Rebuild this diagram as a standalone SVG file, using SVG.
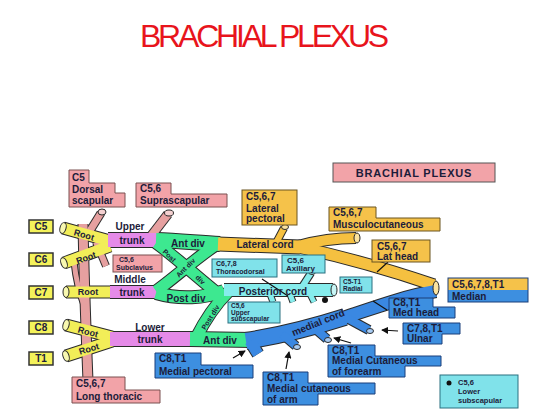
<svg xmlns="http://www.w3.org/2000/svg" width="560" height="420" viewBox="0 0 560 420">
<style>
text{font-family:"Liberation Sans",Arial,sans-serif;font-weight:bold;fill:#1c1c3a}
.t{font-size:10px}
.s{font-size:7px}
.xs{font-size:6.5px}
.pk{fill:#f2a3a8;stroke:#7a5050;stroke-width:1}
.yl{fill:#f5c24a;stroke:#6a5520;stroke-width:1}
.bl{fill:#3d8fe0;stroke:#1a3f7a;stroke-width:1}
.cy{fill:#80e2ea;stroke:#2a7080;stroke-width:1}
.rt{fill:#f4f25a;stroke:#333;stroke-width:1.5}
.o path{fill:none;stroke:#2a2a2a;stroke-linecap:butt}
.c path{fill:none;stroke-linecap:butt}
.ptr{stroke:#111;stroke-width:1.2;fill:none}
.end{stroke:#2a2a2a;stroke-width:1}
</style>
<defs>
<marker id="ah" viewBox="0 0 8 8" refX="7" refY="4" markerWidth="6" markerHeight="6" orient="auto">
<path d="M0,0 L8,4 L0,8 Z" fill="#111"/>
</marker>
</defs>
<rect width="560" height="420" fill="#fff"/>
<text x="263" y="47" text-anchor="middle" style="font-size:32px;font-weight:normal;fill:#e8141c;letter-spacing:-3.2px">BRACHIAL PLEXUS</text>

<g id="connectors">
<!-- outlines -->
<g class="o">
<path d="M83 224 C84 280,86 330,88 381" stroke-width="11"/>
<path d="M74 262 C76 280,80 295,84 305" stroke-width="7"/>
<path d="M88 234 L101 213" stroke-width="9"/>
<path d="M148 240 L168 214" stroke-width="10"/>
<path d="M96 242 L106 266" stroke-width="8"/>
<path d="M63 228 L110 241" stroke-width="13"/>
<path d="M64 263 L110 246" stroke-width="13"/>
<path d="M66 292 L112 292" stroke-width="13"/>
<path d="M66 325 L112 337" stroke-width="13"/>
<path d="M66 356 L112 341" stroke-width="13"/>
<path d="M108 240 L158 240" stroke-width="16"/>
<path d="M110 292 L158 292" stroke-width="14"/>
<path d="M110 339 L192 339" stroke-width="16"/>
<path d="M156 240 C180 241,200 243,220 244" stroke-width="16"/>
<path d="M156 243 C172 254,196 276,216 292" stroke-width="13"/>
<path d="M156 291 C172 280,196 258,216 245" stroke-width="13"/>
<path d="M156 293 C180 300,205 298,224 291" stroke-width="14"/>
<path d="M196 338 C205 320,215 305,228 292" stroke-width="13"/>
<path d="M190 339 L252 340" stroke-width="16"/>
<path d="M218 244 L300 247" stroke-width="15"/>
<path d="M298 246 C320 240,340 238,356 238" stroke-width="12"/>
<path d="M298 247 C340 256,390 270,434 285" stroke-width="13"/>
<path d="M276 243 L284 228" stroke-width="8"/>
<path d="M224 290 L333 290" stroke-width="14"/>
<path d="M302 287 L311 273" stroke-width="8"/>
<path d="M270 294 L273 302" stroke-width="7"/>
<path d="M290 294 L293 302" stroke-width="7"/>
<path d="M310 294 L314 302" stroke-width="7"/>
<path d="M246 341 C290 334,320 325,345 317" stroke-width="18"/>
<path d="M340 319 C370 309,405 296,436 291" stroke-width="14"/>
<path d="M250 341 L258 354" stroke-width="13"/>
<path d="M282 334 L296 346" stroke-width="10"/>
<path d="M312 326 L327 339" stroke-width="10"/>
<path d="M345 317 L369 330" stroke-width="10"/>
</g>
<!-- colour fills -->
<g class="c">
<path d="M83 224 C84 280,86 330,88 381" stroke-width="9" stroke="#e6a0a0"/>
<path d="M74 262 C76 280,80 295,84 305" stroke-width="5" stroke="#e6a0a0"/>
<path d="M88 234 L101 213" stroke-width="7" stroke="#e6a0a0"/>
<path d="M148 240 L168 214" stroke-width="8" stroke="#e6a0a0"/>
<path d="M96 242 L106 266" stroke-width="6" stroke="#e6a0a0"/>
<path d="M63 228 L110 241" stroke-width="11" stroke="#f2ee58"/>
<path d="M64 263 L110 246" stroke-width="11" stroke="#f2ee58"/>
<path d="M66 292 L112 292" stroke-width="11" stroke="#f2ee58"/>
<path d="M66 325 L112 337" stroke-width="11" stroke="#f2ee58"/>
<path d="M66 356 L112 341" stroke-width="11" stroke="#f2ee58"/>
<path d="M108 240 L158 240" stroke-width="14" stroke="#e58ae8"/>
<path d="M110 292 L158 292" stroke-width="12" stroke="#e58ae8"/>
<path d="M110 339 L192 339" stroke-width="14" stroke="#e58ae8"/>
<path d="M156 240 C180 241,200 243,220 244" stroke-width="14" stroke="#3de890"/>
<path d="M156 243 C172 254,196 276,216 292" stroke-width="11" stroke="#3de890"/>
<path d="M156 291 C172 280,196 258,216 245" stroke-width="11" stroke="#3de890"/>
<path d="M156 293 C180 300,205 298,224 291" stroke-width="12" stroke="#3de890"/>
<path d="M196 338 C205 320,215 305,228 292" stroke-width="11" stroke="#3de890"/>
<path d="M190 339 L252 340" stroke-width="14" stroke="#3de890"/>
<path d="M218 244 L300 247" stroke-width="13" stroke="#f5c040"/>
<path d="M298 246 C320 240,340 238,356 238" stroke-width="10" stroke="#f5c040"/>
<path d="M298 247 C340 256,390 270,434 285" stroke-width="11" stroke="#f5c040"/>
<path d="M276 243 L284 228" stroke-width="6" stroke="#f5c040"/>
<path d="M224 290 L333 290" stroke-width="12" stroke="#86ecec"/>
<path d="M302 287 L311 273" stroke-width="6" stroke="#86ecec"/>
<path d="M270 294 L273 302" stroke-width="5" stroke="#86ecec"/>
<path d="M290 294 L293 302" stroke-width="5" stroke="#86ecec"/>
<path d="M310 294 L314 302" stroke-width="5" stroke="#86ecec"/>
<path d="M246 341 C290 334,320 325,345 317" stroke-width="16" stroke="#3a88e2"/>
<path d="M340 319 C370 309,405 296,436 291" stroke-width="12" stroke="#3a88e2"/>
<path d="M250 341 L258 354" stroke-width="11" stroke="#3a88e2"/>
<path d="M282 334 L296 346" stroke-width="8" stroke="#3a88e2"/>
<path d="M312 326 L327 339" stroke-width="8" stroke="#3a88e2"/>
<path d="M345 317 L369 330" stroke-width="8" stroke="#3a88e2"/>
</g>
<!-- nerve ends -->
<g class="end">
<ellipse cx="102" cy="212" rx="4" ry="3" fill="#f4d0d0"/>
<ellipse cx="169" cy="213" rx="4.5" ry="3" fill="#f4d0d0"/>
<ellipse cx="63" cy="228" rx="3" ry="5.5" fill="#f8f8b0" transform="rotate(16 63 228)"/>
<ellipse cx="64" cy="263" rx="3" ry="5.5" fill="#f8f8b0" transform="rotate(-20 64 263)"/>
<ellipse cx="66" cy="292" rx="3" ry="5.5" fill="#f8f8b0"/>
<ellipse cx="66" cy="325" rx="3" ry="5.5" fill="#f8f8b0" transform="rotate(15 66 325)"/>
<ellipse cx="66" cy="356" rx="3" ry="5.5" fill="#f8f8b0" transform="rotate(-18 66 356)"/>
<ellipse cx="357" cy="238" rx="3" ry="5" fill="#fbe3a0"/>
<ellipse cx="285" cy="227" rx="3.5" ry="2.5" fill="#fbe3a0"/>
<ellipse cx="334" cy="290" rx="3" ry="6" fill="#c8f6f6"/>
<ellipse cx="312" cy="272" rx="3.5" ry="2.5" fill="#c8f6f6"/>
<ellipse cx="436" cy="288" rx="3" ry="7" fill="#fbe3a0"/>
<ellipse cx="297" cy="347" rx="3.5" ry="2.5" fill="#a8ccf4"/>
<ellipse cx="328" cy="340" rx="3.5" ry="2.5" fill="#a8ccf4"/>
<ellipse cx="370" cy="331" rx="3.5" ry="2.5" fill="#a8ccf4"/>
</g>
<!-- pointers -->
<line class="ptr" x1="262" y1="279" x2="288" y2="296"/>
<line class="ptr" x1="388" y1="262" x2="377" y2="272"/>
<line class="ptr" x1="387" y1="310" x2="373" y2="301"/>
<line class="ptr" x1="398" y1="331" x2="382" y2="330" marker-end="url(#ah)"/>
<line class="ptr" x1="351" y1="343" x2="334" y2="338" marker-end="url(#ah)"/>
<line class="ptr" x1="286" y1="369" x2="289" y2="352" marker-end="url(#ah)"/>
<line class="ptr" x1="233" y1="358" x2="245" y2="351" marker-end="url(#ah)"/>
<circle cx="325" cy="300" r="3" fill="#111"/>
<!-- nerve labels -->
<text class="s" x="84" y="238" text-anchor="middle" transform="rotate(16 84 235)" style="font-size:9px">Root</text>
<text class="s" x="86" y="261" text-anchor="middle" transform="rotate(-20 86 258)" style="font-size:9px">Root</text>
<text class="s" x="88" y="295" text-anchor="middle" style="font-size:9px">Root</text>
<text class="s" x="88" y="335" text-anchor="middle" transform="rotate(15 88 332)" style="font-size:9px">Root</text>
<text class="s" x="89" y="352" text-anchor="middle" transform="rotate(-17 89 349)" style="font-size:9px">Root</text>
<text class="t" x="130" y="230" text-anchor="middle">Upper</text>
<text class="t" x="132" y="244" text-anchor="middle">trunk</text>
<text class="t" x="130" y="283" text-anchor="middle">Middle</text>
<text class="t" x="132" y="296" text-anchor="middle">trunk</text>
<text class="t" x="150" y="331" text-anchor="middle">Lower</text>
<text class="t" x="150" y="343" text-anchor="middle">trunk</text>
<text class="t" x="188" y="247" text-anchor="middle">Ant div</text>
<text class="t" x="186" y="302" text-anchor="middle">Post div</text>
<text class="t" x="220" y="344" text-anchor="middle">Ant div</text>
<text class="s" x="169" y="258" text-anchor="middle" transform="rotate(44 169 256)">Post</text>
<text class="s" x="186" y="270" text-anchor="middle" transform="rotate(-45 186 268)">Ant div</text>
<text class="s" x="200" y="282" text-anchor="middle" transform="rotate(44 200 280)">div</text>
<text class="s" x="210" y="320" text-anchor="middle" transform="rotate(-58 210 317)">Post div</text>
<text class="t" x="265" y="248" text-anchor="middle">Lateral cord</text>
<text class="t" x="273" y="295" text-anchor="middle">Posterior cord</text>
<text class="t" x="318" y="326" text-anchor="middle" transform="rotate(-22 318 322)">medial cord</text>
</g>

<g id="title-box"><rect x="333" y="163" width="162" height="19" class="pk" style="stroke:#555"/><text x="414" y="177" text-anchor="middle" style="font-size:11px;letter-spacing:0.8px">BRACHIAL PLEXUS</text></g>

<g id="root-c5"><rect x="29" y="220" width="24" height="13" class="rt"/><text class="t" x="41" y="230" text-anchor="middle">C5</text></g>
<g id="root-c6"><rect x="29" y="253" width="24" height="13" class="rt"/><text class="t" x="41" y="263" text-anchor="middle">C6</text></g>
<g id="root-c7"><rect x="29" y="286" width="24" height="13" class="rt"/><text class="t" x="41" y="296" text-anchor="middle">C7</text></g>
<g id="root-c8"><rect x="29" y="321" width="24" height="13" class="rt"/><text class="t" x="41" y="331" text-anchor="middle">C8</text></g>
<g id="root-t1"><rect x="29" y="352" width="24" height="13" class="rt"/><text class="t" x="41" y="362" text-anchor="middle">T1</text></g>

<g id="dorsal-scapular"><path class="pk" d="M69 170 H89 V183 H115 V193 H125 V207 H69 Z"/><text class="t" x="72" y="181">C5</text><text class="t" x="72" y="193">Dorsal</text><text class="t" x="72" y="204">scapular</text></g>
<g id="suprascapular"><path class="pk" d="M136 183 H171 V194 H227 V207 H136 Z"/><text class="t" x="140" y="192">C5,6</text><text class="t" x="140" y="204">Suprascapular</text></g>
<g id="subclavius"><rect class="pk" x="113" y="255" width="49" height="17"/><text class="s" x="119" y="262">C5,6</text><text class="s" x="116" y="270">Subclavius</text></g>
<g id="long-thoracic"><path class="pk" d="M72 377 H125 V390 H160 V403 H72 Z"/><text class="t" x="76" y="387">C5,6,7</text><text class="t" x="76" y="400">Long thoracic</text></g>

<g id="lateral-pectoral"><rect class="yl" x="242" y="190" width="55" height="35"/><text class="t" x="246" y="200">C5,6,7</text><text class="t" x="246" y="212">Lateral</text><text class="t" x="246" y="222">pectoral</text></g>
<g id="musculocutaneous"><path class="yl" d="M329 207 H376 V218 H440 V231 H329 Z"/><text class="t" x="333" y="216">C5,6,7</text><text class="t" x="333" y="228">Musculocutaneous</text></g>
<g id="lat-head"><rect class="yl" x="372" y="240" width="58" height="22"/><text class="t" x="377" y="250">C5,6,7</text><text class="t" x="377" y="260">Lat head</text></g>
<g id="median"><rect x="448" y="278" width="80" height="12" fill="#f5c24a"/><rect x="448" y="290" width="80" height="12" fill="#3d8fe0"/><rect x="448" y="278" width="80" height="24" fill="none" stroke="#1a3f7a"/><text class="t" x="452" y="288">C5,6,7,8,T1</text><text class="t" x="452" y="300">Median</text></g>

<g id="med-head"><path class="bl" d="M389 298 H433 V307 H455 V318 H389 Z"/><text class="t" x="393" y="306">C8,T1</text><text class="t" x="393" y="316">Med head</text></g>
<g id="ulnar"><path class="bl" d="M403 323 H460 V334 H442 V344 H403 Z"/><text class="t" x="407" y="332">C7,8,T1</text><text class="t" x="407" y="342">Ulnar</text></g>
<g id="med-cut-forearm"><path class="bl" d="M328 345 H375 V356 H441 V366 H405 V377 H328 Z"/><text class="t" x="332" y="354">C8,T1</text><text class="t" x="332" y="364">Medial Cutaneous</text><text class="t" x="332" y="375">of forearm</text></g>
<g id="med-cut-arm"><path class="bl" d="M263 372 H308 V383 H375 V394 H318 V405 H263 Z"/><text class="t" x="267" y="381">C8,T1</text><text class="t" x="267" y="392">Medial cutaneous</text><text class="t" x="267" y="403">of arm</text></g>
<g id="med-pectoral"><path class="bl" d="M155 353 H201 V365 H253 V378 H155 Z"/><text class="t" x="159" y="362">C8,T1</text><text class="t" x="159" y="375">Medial pectoral</text></g>

<g id="thoracodorsal"><rect class="cy" x="212" y="259" width="65" height="18"/><text class="s" x="216" y="266">C6,7,8</text><text class="s" x="216" y="274">Thoracodorsal</text></g>
<g id="axillary"><rect class="cy" x="282" y="255" width="43" height="18"/><text class="s" x="287" y="263" style="font-size:8px">C5,6</text><text class="s" x="286" y="271" style="font-size:8px">Axillary</text></g>
<g id="radial"><rect class="cy" x="340" y="277" width="32" height="16"/><text class="xs" x="343" y="284">C5-T1</text><text class="xs" x="343" y="291">Radial</text></g>
<g id="upper-subscapular"><rect class="cy" x="228" y="302" width="52" height="21"/><text class="xs" x="231" y="308">C5,6</text><text class="xs" x="231" y="315">Upper</text><text class="xs" x="231" y="321">subscapular</text></g>
<g id="lower-subscapular"><rect class="cy" x="440" y="375" width="78" height="33"/><circle cx="449" cy="383" r="2.5" fill="#111"/><text class="s" x="458" y="385" style="font-size:7.5px">C5,6</text><text class="s" x="458" y="394" style="font-size:7.5px">Lower</text><text class="s" x="458" y="403" style="font-size:7.5px">subscapular</text></g>
</svg>
